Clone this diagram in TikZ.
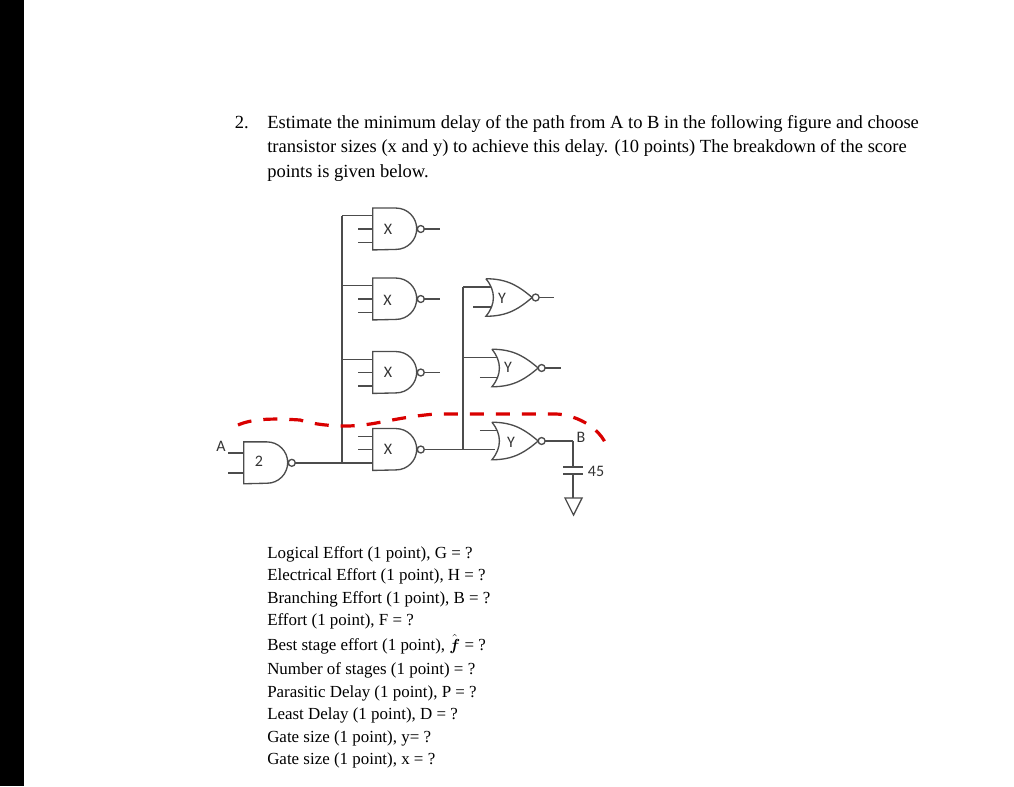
\documentclass[tikz,border=0pt]{standalone}
\usepackage{amsmath}
\usepackage{fontspec}
\setmainfont{Liberation Serif}
\newfontfamily\gatefont{Carlito}
\tikzset{
gatebase/.style={inner sep=0pt, minimum width=38.25pt, minimum height=31pt},
nandgate/.style={gatebase, append after command={\pgfextra{
    \draw[gateline] (\tikzlastnode.south west) -- (\tikzlastnode.north west) -- ++(23.3,0)
    arc[start angle=90, end angle=-90, radius=15.5pt] -- cycle
    ([xshift=-2.6pt]\tikzlastnode.east) circle (2.6pt);}}},
norgate/.style={gatebase, minimum width=39.5pt, minimum height=27.75pt, append after command={\pgfextra{
    \draw[gateline] (\tikzlastnode.north west) .. controls +(22,0) and +(-13,-11) .. ([xshift=-5.2pt]\tikzlastnode.east)
    .. controls +(-13,11) and +(22,0) .. (\tikzlastnode.south west)
    .. controls +(10,-12) and +(10,12) .. (\tikzlastnode.north west)
    ([xshift=-2.6pt]\tikzlastnode.east) circle (2.6pt);}}},
gateline/.style={draw=black!70, line width=1pt},
wire/.style={draw=black!70, line width=1pt},
gatelabel/.style={font=\gatefont\fontsize{12}{12}\selectfont, inner sep=0pt, text=black!80},
textline/.style={anchor=base west, inner sep=0pt, font=\fontsize{13.9}{13.9}\selectfont},
listline/.style={textline, font=\fontsize{12.7}{12.7}\selectfont},
}
\begin{document}
\begin{tikzpicture}[x=0.75pt, y=-0.75pt]
    \useasboundingbox (0,0) rectangle (1014,786);
    \fill[black] (0,0) rectangle (24,786);

    % question
    \node[textline, anchor=base east] (qnum) at (249,128) {2.};
    \node[textline] (qa) at (267,128) {Estimate the minimum delay of the path from A to B in the following figure and choose};
    \node[textline] (qb) at (267,152.5) {transistor sizes (x and y) to achieve this delay. (10 points) The breakdown of the score};
    \node[textline] (qc) at (267,177) {points is given below.};

    % gates
    \node[nandgate] (n0) at (269.5,462.83) {};
    \node[nandgate] (x1) at (398.5,229) {};
    \node[nandgate] (x2) at (398.5,299) {};
    \node[nandgate] (x3) at (398.5,372.5) {};
    \node[nandgate] (x4) at (398.5,449.5) {};
    \node[norgate] (y1) at (512.5,297.5) {};
    \node[norgate] (y2) at (518.5,368) {};
    \node[norgate] (y3) at (518.5,441) {};

    \node[gatelabel] (ln0) at (259,461) {2};
    \node[gatelabel] (lx1) at (388,229) {X};
    \node[gatelabel] (lx2) at (387.5,300) {X};
    \node[gatelabel] (lx3) at (388,372) {X};
    \node[gatelabel] (lx4) at (388,449) {X};
    \node[gatelabel] (ly1) at (502,298) {Y};
    \node[gatelabel] (ly2) at (508,367) {Y};
    \node[gatelabel] (ly3) at (511,442) {Y};

    % free ends and junctions
    \coordinate (a1) at (228,453);
    \coordinate (a2) at (228,473);
    \coordinate (bus1) at ([yshift=10pt]x1.west -| 342,0);
    \coordinate (bus2) at ([yshift=10pt]x2.west -| 342,0);
    \coordinate (bus3) at ([yshift=10pt]x3.west -| 342,0);
    \coordinate (bus4) at (n0.east -| 342,0);
    \coordinate (bus5) at ([yshift=8pt]y1.west -| 463,0);
    \coordinate (bus6) at ([yshift=8pt]y2.west -| 463,0);
    \coordinate (bus7) at (x4.east -| 463,0);
    \coordinate (y3in) at (x4.east -| 495,0);
    \coordinate (o1) at (440,229);
    \coordinate (o2) at (440,299);
    \coordinate (o3) at (440,372.5);
    \coordinate (oy1) at (554,297.5);
    \coordinate (oy2) at (561,368);
    \coordinate (b) at (573,441);
    \coordinate (capa) at (573,467);
    \coordinate (capb) at (573,474);
    \coordinate (capal) at (563,467);
    \coordinate (capar) at (583,467);
    \coordinate (capbl) at (563,474);
    \coordinate (capbr) at (583,474);
    \coordinate (gnd) at (573,498);
    \coordinate (gndl) at (565,498);
    \coordinate (gndr) at (582,498);
    \coordinate (gndt) at (573.5,515);

    \draw[wire]
    (a1) edge (a1 -| n0.west)
    (a2) edge (a2 -| n0.west)
    (n0.east) edge (bus4)
    (bus1) edge (bus4)
    (bus1) edge ([yshift=10pt]x1.west)
    (bus2) edge ([yshift=10pt]x2.west)
    (bus3) edge ([yshift=10pt]x3.west)
    (bus4) edge (bus4 -| x4.west)
    ([yshift=0pt]x1.west -| 358,0) edge (x1.west)
    ([yshift=-10pt]x1.west -| 358,0) edge ([yshift=-10pt]x1.west)
    ([yshift=0pt]x2.west -| 358,0) edge (x2.west)
    ([yshift=-10pt]x2.west -| 358,0) edge ([yshift=-10pt]x2.west)
    ([yshift=0pt]x3.west -| 358,0) edge (x3.west)
    ([yshift=-10pt]x3.west -| 358,0) edge ([yshift=-10pt]x3.west)
    ([yshift=10pt]x4.west -| 358,0) edge ([yshift=10pt]x4.west)
    ([yshift=0pt]x4.west -| 358,0) edge (x4.west)
    (x1.east) edge (o1)
    (x2.east) edge (o2)
    (x3.east) edge (o3)
    (bus5) edge (bus7)
    (bus5) edge ([xshift=3.5pt, yshift=8pt]y1.west)
    (bus6) edge ([xshift=3.5pt, yshift=8pt]y2.west)
    (x4.east) edge (y3in)
    ([xshift=-9.5pt, yshift=-7pt]y1.west) edge ([xshift=3.5pt, yshift=-7pt]y1.west)
    ([xshift=-9pt, yshift=-7pt]y2.west) edge ([xshift=3.5pt, yshift=-7pt]y2.west)
    ([xshift=-9pt, yshift=8pt]y3.west) edge ([xshift=3.5pt, yshift=8pt]y3.west)
    (y1.east) edge (oy1)
    (y2.east) edge (oy2)
    (y3.east) edge (b)
    (b) edge (capa)
    (capal) edge (capar)
    (capbl) edge (capbr)
    (capb) edge (gnd);
    \draw[wire] (gndl) -- (gndr) -- (gndt) -- cycle;

    \node[gatelabel] (la) at (221,446) {A};
    \node[gatelabel] (lb) at (581,437) {B};
    \node[gatelabel] (lc) at (596,471) {45};

    % cut line
    \draw[red!85!black, line width=2.4pt, dash pattern=on 10.5pt off 9pt]
    (238,425) .. controls (252,419) and (270,418) .. (300,420)
    .. controls (312,424) and (330,426) .. (345,426)
    .. controls (375,426) and (390,418) .. (435,414)
    -- (555,414) .. controls (572,414) and (600,425) .. (608,449);

    % score list
    \node[listline] (l1) at (267,558) {Logical Effort (1 point), G = ?};
    \node[listline] (l2) at (267,580) {Electrical Effort (1 point), H = ?};
    \node[listline] (l3) at (267,603) {Branching Effort (1 point), B = ?};
    \node[listline] (l4) at (267,625) {Effort (1 point), F = ?};
    \node[listline] (l5) at (267,650) {Best stage effort (1 point), $\hat{\boldsymbol{f}}$ = ?};
    \node[listline] (l6) at (267,674) {Number of stages (1 point) = ?};
    \node[listline] (l7) at (267,697) {Parasitic Delay (1 point), P = ?};
    \node[listline] (l8) at (267,719) {Least Delay (1 point), D = ?};
    \node[listline] (l9) at (267,742) {Gate size (1 point), y= ?};
    \node[listline] (l10) at (267,764) {Gate size (1 point), x = ?};
\end{tikzpicture}
\end{document}
